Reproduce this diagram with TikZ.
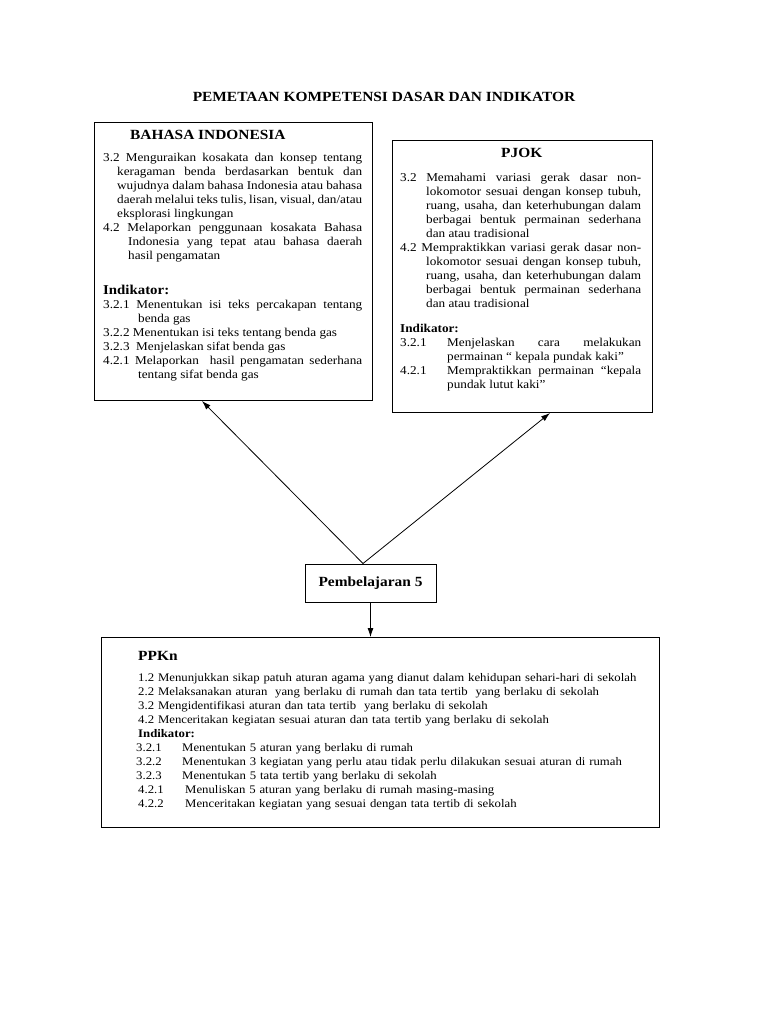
\documentclass[tikz,border=0pt]{standalone}
\usepackage{fontspec}
\setmainfont{Liberation Serif}[FakeStretch=1.1]
\usetikzlibrary{arrows.meta}
\hyphenpenalty=10000
\tolerance=9999
\hbadness=10000
\begin{document}
\begin{tikzpicture}[x=1pt,y=-1pt,
  >={Latex[length=9pt,width=6pt]},
  box/.style={draw, line width=1pt, inner sep=0pt},
  head/.style={font=\bfseries\fontsize{14}{16}\selectfont, inner sep=0pt, anchor=base west},
  body/.style={font=\fontsize{12}{14}\selectfont, inner sep=0pt, anchor=base west},
  link/.style={->, line width=0.8pt}]
\useasboundingbox (0,0) rectangle (768,1024);
\node[head, anchor=base](title) at (384,101.5) {PEMETAAN KOMPETENSI DASAR DAN INDIKATOR};
%
\node[box, minimum width=278pt, minimum height=278pt, anchor=north west](bahasa) at (94,122) {};
\node[head](bahasa-title) at (130,140) {BAHASA INDONESIA};
\node[body, text width=259pt, align=justify](bahasa-kd) at (103,161.5) {%
\noindent\hangindent=14pt\hangafter=1 3.2 Menguraikan kosakata dan konsep tentang\linebreak keragaman benda berdasarkan bentuk dan\linebreak wujudnya dalam bahasa Indonesia atau bahasa\linebreak daerah melalui teks tulis, lisan, visual, dan/atau\linebreak eksplorasi lingkungan\par
\noindent\hangindent=25pt\hangafter=1 4.2 Melaporkan penggunaan kosakata Bahasa\linebreak Indonesia yang tepat atau bahasa daerah\linebreak hasil pengamatan\par};
\node[head, font=\bfseries\fontsize{13.5}{16}\selectfont](bahasa-ind-title) at (103,294) {Indikator:};
\node[body, text width=259pt, align=justify](bahasa-ind) at (103,308.5) {%
\noindent\hangindent=35pt\hangafter=1 3.2.1 Menentukan isi teks percakapan tentang\linebreak benda gas\par
\noindent 3.2.2 Menentukan isi teks tentang benda gas\par
\noindent 3.2.3\ \ Menjelaskan sifat benda gas\par
\noindent\hangindent=35pt\hangafter=1 4.2.1 Melaporkan\ \ hasil pengamatan sederhana\linebreak tentang sifat benda gas\par};
%
\node[box, minimum width=260pt, minimum height=272pt, anchor=north west](pjok) at (392,140) {};
\node[head](pjok-title) at (501,158) {PJOK};
\node[body, text width=241pt, align=justify](pjok-kd) at (400,181.5) {%
\noindent\hangindent=26pt\hangafter=1 3.2 Memahami variasi gerak dasar non-\linebreak lokomotor sesuai dengan konsep tubuh,\linebreak ruang, usaha, dan keterhubungan dalam\linebreak berbagai bentuk permainan sederhana\linebreak dan atau tradisional\par
\noindent\hangindent=26pt\hangafter=1 4.2 Mempraktikkan variasi gerak dasar non-\linebreak lokomotor sesuai dengan konsep tubuh,\linebreak ruang, usaha, dan keterhubungan dalam\linebreak berbagai bentuk permainan sederhana\linebreak dan atau tradisional\par};
\node[body, font=\bfseries\fontsize{12}{14}\selectfont](pjok-ind-title) at (400,332) {Indikator:};
\node[body, text width=241pt, align=justify](pjok-ind) at (400,346.5) {%
\noindent\hangindent=47pt\hangafter=1 \makebox[47pt][l]{3.2.1}Menjelaskan cara melakukan\linebreak permainan “ kepala pundak kaki”\par
\noindent\hangindent=47pt\hangafter=1 \makebox[47pt][l]{4.2.1}Mempraktikkan permainan “kepala\linebreak pundak lutut kaki”\par};
%
\node[box, minimum width=131pt, minimum height=38pt, font=\bfseries\fontsize{14}{16}\selectfont](pemb) at (370.5,583) {Pembelajaran 5};
%
\node[box, minimum width=558pt, minimum height=190pt, anchor=north west](ppkn) at (101,637) {};
\node[head](ppkn-title) at (138,660) {PPKn};
\node[body, font=\fontsize{11.6}{14}\selectfont, text width=540pt, align=left](ppkn-kd) at (138,681.5) {%
1.2 Menunjukkan sikap patuh aturan agama yang dianut dalam kehidupan sehari-hari di sekolah\\
2.2 Melaksanakan aturan\ \ yang berlaku di rumah dan tata tertib\ \ yang berlaku di sekolah\\
3.2 Mengidentifikasi aturan dan tata tertib\ \ yang berlaku di sekolah\\
4.2 Menceritakan kegiatan sesuai aturan dan tata tertib yang berlaku di sekolah\\
\textbf{Indikator:}\\
\hspace*{-2pt}\makebox[46pt][l]{3.2.1}Menentukan 5 aturan yang berlaku di rumah\\
\hspace*{-2pt}\makebox[46pt][l]{3.2.2}Menentukan 3 kegiatan yang perlu atau tidak perlu dilakukan sesuai aturan di rumah\\
\hspace*{-2pt}\makebox[46pt][l]{3.2.3}Menentukan 5 tata tertib yang berlaku di sekolah\\
\makebox[47pt][l]{4.2.1}Menuliskan 5 aturan yang berlaku di rumah masing-masing\\
\makebox[47pt][l]{4.2.2}Menceritakan kegiatan yang sesuai dengan tata tertib di sekolah};
%
\draw[link]([xshift=-7.5pt]pemb.north) -- ([xshift=108pt]bahasa.south west);
\draw[link]([xshift=-7.5pt]pemb.north) -- ([xshift=158pt]pjok.south west);
\draw[link](pemb.south) -- (pemb.south |- ppkn.north);
\end{tikzpicture}
\end{document}
